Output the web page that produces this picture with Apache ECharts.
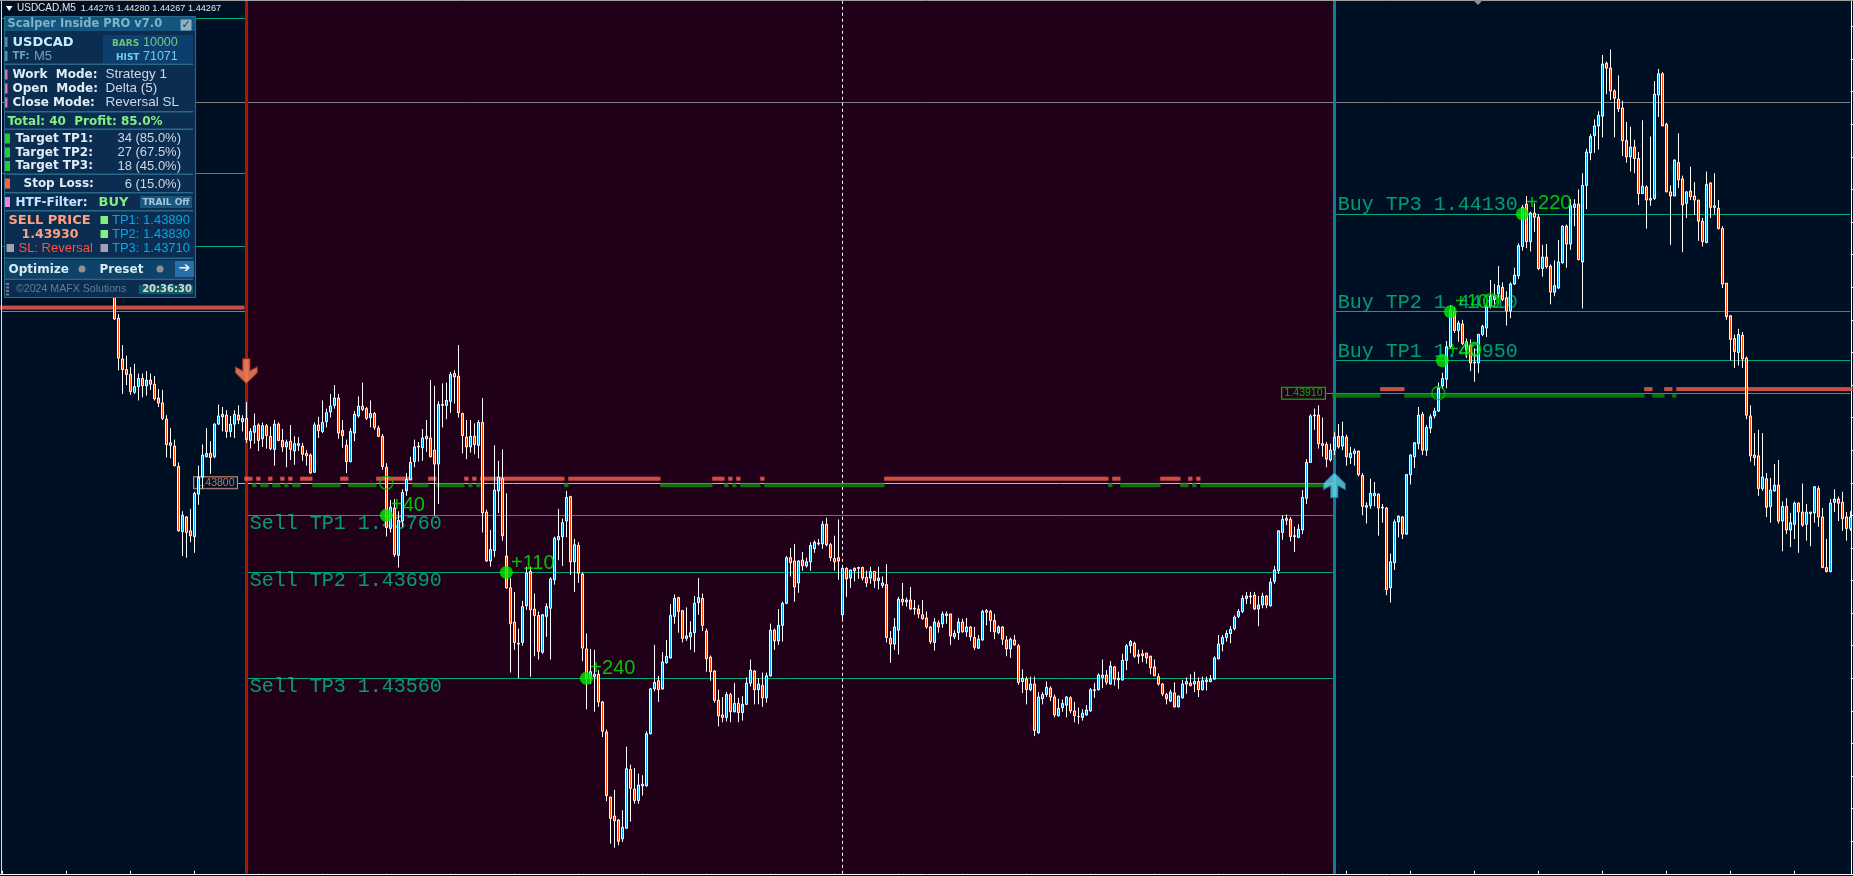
<!DOCTYPE html>
<html>
<head>
<meta charset="utf-8">
<style>html,body{margin:0;padding:0;background:#001024;overflow:hidden}#c{width:1853px;height:876px}</style>
<script src="https://cdn.jsdelivr.net/npm/echarts@6/dist/echarts.min.js"></script>
</head>
<body>
<div id="c"></div>
<script>
// Candles: [open, close, low, high] in points above 1.43000
const barsA=[[1029,1001,1000,1040],[1002,953,938,1007],[952,939,909,969],[939,933,920,956],[933,912,908,942],[911,918,909,946],[918,928,901,934],[928,919,905,934],[919,926,907,937],[926,921,914,934],[921,903,901,931],[904,898,893,915],[898,879,877,914],[878,847,831,883],[849,846,830,867],[845,821,820,853],[820,741,740,825],[740,760,710,765],[758,739,708,759],[741,735,727,768],[734,787,714,789],[786,807,773,821],[807,834,793,847],[832,836,831,867],[836,831,811,851],[832,872,830,873],[872,882,871,896],[881,884,863,893],[883,863,855,889],[863,872,856,882],[872,884,855,889],[883,877,872,895],[875,879,863,883],[879,853,849,899],[852,863,842,867],[862,870,848,885],[871,852,839,873],[854,870,844,874],[870,858,842,872],[857,842,840,869],[841,872,821,877],[872,852,851,874],[852,844,838,866],[844,850,819,853],[851,841,828,871],[839,848,822,857],[846,848,839,856],[845,835,827,849],[836,833,821,840],[834,812,811,836],[813,871,812,874],[871,864,855,881],[863,874,861,901],[875,886,868,891]];
const barsB=[[887,894,880,909],[895,904,891,920],[904,861,854,909],[864,858,843,877],[846,826,812,853],[826,863,825,867],[861,884,851,888],[882,894,880,906],[894,890,888,923],[891,879,877,893],[880,885,868,901],[885,868,865,887],[867,857,856,870],[857,820,816,860],[819,745,734,824],[744,770,739,779],[769,712,709,780],[711,754,696,765],[753,788,746,792],[790,804,784,812],[804,825,803,832],[826,844,819,853],[844,845,826,850],[843,855,827,866],[857,854,838,877],[855,832,831,926],[840,823,760,919],[823,896,774,900],[895,896,868,922],[895,901,878,923],[900,933,886,936],[934,930,897,938],[931,886,880,969],[885,858,836,886],[856,844,829,877],[844,857,837,877],[857,847,835,873],[846,874,830,877],[874,763,739,904],[764,704,703,767],[704,718,697,742],[717,791,709,846],[790,807,763,827],[805,735,729,841],[710,671,670,787],[671,627,567,683],[629,604,595,666],[603,602,560,621],[604,648,600,655],[649,689,644,697],[691,644,562,697],[645,637,587,664],[637,593,583,642],[592,638,590,639],[636,648,611,652]];
const barsC=[[646,682,583,684],[681,732,675,734],[730,734,705,768],[734,751,698,756],[753,782,733,790],[783,703,687,784],[703,724,666,731],[723,689,677,727],[688,597,581,690],[596,560,522,615],[560,568,553,596],[562,565,519,595],[565,531,525,570],[531,495,488,532],[494,416,409,497],[414,388,357,415],[391,385,352,423],[386,360,355,387],[363,377,359,398],[376,449,375,476],[448,425,384,454],[424,410,406,450],[410,429,406,443],[428,430,416,441],[428,492,427,495],[492,547,491,548],[547,555,544,601],[557,546,531,563],[547,580,546,592],[579,587,578,607],[585,637,584,651],[636,658,627,663],[659,642,616,660],[643,609,604,644],[609,612,606,647],[611,616,595,630],[616,652,592,661],[653,659,638,683],[658,625,618,664],[618,584,568,621],[586,568,557,588],[569,533,530,570],[533,514,501,546],[515,512,506,537],[512,540,507,543],[540,519,506,542],[519,529,518,554],[529,518,506,536],[518,528,508,538],[528,554,527,561],[554,570,550,583],[569,546,528,570],[546,553,528,560],[551,536,525,567]];
const barsD=[[536,563,530,567],[563,619,562,627],[619,606,595,621],[606,625,601,645],[625,652,605,654],[652,708,651,710],[708,702,685,720],[704,672,654,725],[677,704,665,705],[705,698,692,715],[698,703,696,708],[703,723,692,727],[719,727,714,729],[725,726,723,731],[725,749,719,753],[749,724,722,757],[724,708,704,726],[707,703,692,735],[708,704,681,755],[638,695,631,696],[695,682,660,696],[683,693,671,693],[692,695,679,696],[695,696,682,697],[696,683,680,697],[684,677,672,692],[683,691,676,697],[691,680,671,692],[680,683,669,697],[674,677,671,685],[675,610,604,700],[609,602,579,618],[602,623,595,634],[619,657,589,660],[657,654,649,677],[654,656,648,659],[656,645,644,672],[645,646,638,656],[645,639,634,650],[638,633,632,656],[634,623,621,642],[623,605,602,624],[604,629,594,634],[628,623,616,631],[627,639,622,642],[637,639,627,642],[639,612,601,639],[611,615,608,619],[616,629,607,634],[629,617,616,633],[617,623,611,634],[623,611,606,624],[610,598,595,623],[597,608,596,613],[607,642,606,644]];
const barsE=[[643,641,625,645],[642,631,617,644],[631,617,608,639],[616,623,614,625],[623,608,601,624],[607,596,587,612],[596,608,585,610],[607,601,600,613],[600,555,552,602],[556,560,542,571],[559,546,528,562],[546,553,544,562],[553,496,489,562],[493,537,492,543],[535,540,528,543],[540,549,537,556],[548,537,532,550],[537,515,512,540],[514,523,513,535],[524,529,519,534],[527,537,512,538],[536,520,517,538],[520,514,506,531],[513,513,504,524],[512,517,508,522],[515,521,514,527],[520,546,519,548],[545,546,536,554],[546,564,545,566],[561,564,548,583],[564,555,552,570],[553,575,552,581],[574,559,551,575],[558,560,547,568],[558,582,557,590],[582,600,570,602],[600,605,591,607],[603,587,585,605],[587,589,578,595],[590,588,580,595],[591,585,578,591],[587,573,565,588],[574,563,563,583],[562,553,551,566],[553,541,538,554],[540,535,528,542],[532,543,531,546],[542,525,524,555],[525,538,524,539],[536,553,535,558],[553,556,541,561],[554,551,550,565],[553,556,543,568],[556,546,537,561]];
const barsF=[[546,557,545,562],[556,558,545,562],[556,559,555,564],[559,585,558,587],[584,602,583,613],[602,610,593,613],[610,615,605,619],[615,620,603,624],[621,635,619,637],[636,642,634,645],[642,658,640,662],[658,661,651,666],[660,661,651,666],[662,645,644,666],[645,650,624,661],[650,661,646,665],[661,650,646,662],[649,678,648,683],[679,693,676,698],[692,741,688,742],[739,755,730,760],[754,756,748,761],[755,734,728,758],[734,735,715,746],[733,743,732,749],[742,782,737,791],[781,825,774,829],[825,882,825,884],[882,883,865,891],[883,848,842,895],[848,846,832,880],[847,829,819,850],[828,840,826,848],[840,856,834,862],[857,844,842,872],[845,857,840,875],[856,832,821,859],[831,836,823,844],[836,839,821,842],[839,810,808,839],[809,771,760,812],[770,772,750,776],[772,787,768,805],[784,787,771,801],[786,769,735,787],[769,770,751,774],[769,669,662,770],[671,703,653,713],[702,752,693,755],[752,759,733,760],[758,737,731,759],[737,810,736,811],[810,834,798,835],[832,849,818,850],[848,883,841,893]];
const barsG=[[884,840,834,887],[840,868,833,871],[867,881,861,884],[882,888,879,892],[888,916,887,923],[919,928,915,935],[927,967,916,974],[967,1012,965,1018],[1010,987,984,1016],[987,996,973,999],[995,971,969,1000],[963,973,953,977],[969,947,937,976],[947,948,924,965],[947,982,935,983],[982,992,980,994],[990,1016,979,1020],[1016,1029,1014,1049],[1025,1029,1016,1044],[1032,1042,1026,1066],[1040,1025,1023,1046],[1027,1011,993,1035],[1011,1044,1002,1046],[1044,1055,1043,1064],[1054,1091,1050,1094],[1090,1138,1085,1141],[1142,1096,1088,1152],[1096,1131,1084,1133],[1131,1126,1108,1143],[1126,1063,1061,1130],[1063,1077,1053,1092],[1077,1065,1063,1093],[1066,1034,1019,1068],[1034,1042,1029,1073],[1039,1071,1038,1098],[1070,1115,1069,1116],[1115,1093,1064,1117],[1093,1140,1086,1148],[1138,1142,1115,1148],[1142,1074,1073,1160],[1071,1165,1014,1180],[1165,1206,1136,1210],[1205,1225,1196,1228],[1226,1238,1205,1246],[1238,1251,1209,1256],[1250,1314,1224,1325],[1315,1309,1277,1317],[1309,1281,1270,1332],[1281,1272,1224,1283],[1271,1259,1255,1300],[1260,1220,1201,1269],[1220,1200,1193,1243],[1200,1212,1182,1237]];
const barsH=[[1212,1198,1180,1221],[1198,1155,1141,1206],[1155,1164,1155,1245],[1163,1147,1112,1165],[1147,1149,1140,1225],[1149,1277,1147,1293],[1276,1302,1249,1308],[1302,1238,1238,1304],[1240,1157,1157,1242],[1157,1152,1092,1165],[1152,1196,1152,1197],[1193,1172,1162,1229],[1173,1141,1083,1177],[1143,1157,1125,1158],[1158,1151,1147,1188],[1152,1147,1129,1169],[1147,1121,1097,1147],[1121,1096,1090,1125],[1095,1166,1094,1182],[1168,1138,1125,1169],[1138,1140,1130,1180],[1137,1112,1111,1147],[1112,1044,1039,1115],[1045,1004,1000,1045],[1005,976,950,1006],[977,961,941,982],[960,982,944,989],[981,952,941,985],[953,883,878,955],[882,833,826,895],[834,831,821,861],[833,793,784,865],[793,807,790,861],[805,770,758,812],[771,791,751,806],[790,797,789,823],[797,753,750,828],[753,771,716,777],[771,742,737,781],[742,751,721,763],[749,775,731,777],[775,764,714,776],[764,748,746,799],[749,764,729,774],[762,764,722,764],[763,795,751,796],[793,758,746,796],[758,696,695,769],[696,691,690,731],[691,775,690,780],[776,780,764,792],[780,775,753,783],[776,756,741,789],[758,744,729,764],[744,758,741,765]];

const blankBars=28, totalBars=463;
// Indicator blocks: bar ranges
const leftRed=[[0,60]];
const sellRed=[[61,62],[64,64],[67,67],[70,70],[72,72],[75,77],[85,86],[94,102],[107,108],[116,116],[118,118],[120,140],[142,164],[178,180],[182,182],[184,184],[190,190],[221,276],[278,279],[290,294],[297,297],[299,299]];
const sellGreen=[[63,63],[65,66],[68,69],[71,71],[73,74],[78,84],[87,93],[103,106],[109,115],[117,117],[119,119],[141,141],[165,177],[181,181],[183,183],[185,189],[191,220],[277,277],[280,289],[295,296],[298,298],[300,332]];
const buyRed=[[345,350],[411,412],[416,417],[419,462]];
const buyGreen=[[333,344],[351,410],[413,415],[418,418]];
// Levels, in points above 1.43000
const prevBuyLevel=1010, sellLevel=800, buyLevel=910, bidLevel=1267;
const prevTargets=[1370,1180,1090];
const sellTargets=[760,690,560];
const buyTargets=[950,1010,1130];
const sellBar=61, buyBar=333, cursorBar=210;
const sellTpLabels=['Sell TP1 1.43760','Sell TP2 1.43690','Sell TP3 1.43560'];
const buyTpLabels=['Buy TP1 1.43950','Buy TP2 1.44010','Buy TP3 1.44130'];
const hits=[[96,760,'+40'],[126,690,'+110'],[146,560,'+240'],[360,950,'+40'],[362,1010,'+100'],[380,1130,'+220']];
const rings=[[96,800],[359,910],[368,964],[372,1024]];
const arrows=[[61,937,'down'],[333,797,'up']];
const priceBoxes=[[59,800,'1.43800','#e89478','#ffa888'],[331,910,'1.43910','#00d800','#00e800']];

const P=v=>+(1.43+v/1e5).toFixed(5);
const cats=Array.from({length:totalBars},(_,i)=>'bar'+i);
const allBars=[...barsA,...barsB,...barsC,...barsD,...barsE,...barsF,...barsG,...barsH];
const candleData=[...Array(blankBars).fill(['-','-','-','-']),...allBars.map(r=>r.map(P))];
const expand=(ranges,lvl)=>{const o=[];ranges.forEach(([a,b])=>{for(let i=a;i<=b;i++)o.push([cats[i],P(lvl)]);});return o;};
const seg=(a,b,lvl,color,width)=>[{coord:[cats[a],P(lvl)],lineStyle:{color,width:width||1,type:'solid'}},{coord:[cats[b],P(lvl)]}];
const TP='#00a878';

const lines=[];
prevTargets.forEach(v=>lines.push(seg(0,sellBar,v,TP)));
sellTargets.forEach(v=>lines.push(seg(sellBar,buyBar,v,TP)));
buyTargets.forEach(v=>lines.push(seg(buyBar,totalBars-1,v,TP)));
lines.push(seg(0,totalBars-1,bidLevel,'#808080'));
lines.push(seg(0,sellBar,prevBuyLevel,'#00e000'));
lines.push(seg(59,buyBar,sellLevel,'#ffa080'));
lines.push(seg(331,totalBars-1,buyLevel,'#00d000'));
lines.push({xAxis:cats[cursorBar],lineStyle:{color:'#ffffff',width:1,type:[3,3]}});
lines.push({xAxis:cats[sellBar],lineStyle:{color:'#a81800',width:3,type:'solid'}});
lines.push({xAxis:cats[buyBar],lineStyle:{color:'#0e7f9a',width:3,type:'solid'}});

const redBlocks=[...expand(leftRed,prevBuyLevel+5.5),...expand(sellRed,sellLevel+5.5),...expand(buyRed,buyLevel+5.5)];
const greenBlocks=[...expand(sellGreen,sellLevel-3),...expand(buyGreen,buyLevel-3)];
const tpTexts=[
 ...sellTpLabels.map((t,i)=>({value:[cats[sellBar],P(sellTargets[i])],t,off:[3.5,8]})),
 ...buyTpLabels.map((t,i)=>({value:[cats[buyBar],P(buyTargets[i])],t,off:[3.5,-9]}))
];
const hitOff={'+40':[4.7,-10],'+110':[4.7,-9],'+240':[4,-10],'+100':[4.7,-9],'+220':[4,-10]};
const hitTexts=hits.map(([b,v,t])=>({value:[cats[b],P(v)],t,off:hitOff[t]}));

const downPath='path://M8,0 L16,0 L16,12 L24,8 L24,14 L12,25 L0,14 L0,8 L8,12 Z';
const upPath='path://M12,0 L24,11 L24,17 L16,13 L16,25 L8,25 L8,13 L0,17 L0,11 Z';

// ---- info panel ----
const g=[];
const R=(x,y,w,h,fill,stroke)=>g.push({type:'rect',z:100,shape:{x,y,width:w,height:h},style:{fill,stroke:stroke||null,lineWidth:stroke?1:0},silent:true});
const T=(x,y,text,font,fill,align)=>g.push({type:'text',z:101,x,y,silent:true,style:{text,font,fill,textAlign:align||'left',textVerticalAlign:'middle'}});
const B='bold 12px "DejaVu Sans"', N='13px "Liberation Sans"';
R(4.5,16.5,191,281,'#0b2d52','#2a6a8a');
R(5,17,190,14,'#12557e');
T(7.5,24.5,'Scalper Inside PRO v7.0','bold 11.5px "DejaVu Sans"','#7fb3c8');
R(180.5,19.5,11,11,'#8fb0c0');
T(186,25,'✓','bold 11px "DejaVu Sans"','#12384f','center');
[64,111.5,129,174,192.5,210.5,258,279].forEach(y=>R(5,y-0.5,188,1.6,'#2a6888'));
R(5,33,188,30,'#0b2d52');
R(103,35,90,28,'#0c3f6e');
R(5,37,2.5,10,'#4f8fa8');R(5,51,2.5,10,'#4f8fa8');
T(12.5,43,'USDCAD','bold 13px "DejaVu Sans"','#c0f0ff');
T(12.5,56,'TF:','bold 10px "DejaVu Sans"','#6aa0c0');
T(34,56,'M5','13px "Liberation Sans"','#6aa0c0');
T(112,43.5,'BARS','bold 9px "DejaVu Sans"','#70c070');
T(143,43,'10000','12.5px "Liberation Sans"','#70c880');
T(116,57.5,'HIST','bold 9px "DejaVu Sans"','#70d0f0');
T(143,57,'71071','12.5px "Liberation Sans"','#70d0f0');
[['Work  Mode:','Strategy 1',74.5],['Open  Mode:','Delta (5)',88.5],['Close Mode:','Reversal SL',102.5]].forEach(([a,b,y])=>{
  R(5,y-5,2.5,10,'#e070b0');T(12.5,y,a,B,'#e0eef4');T(105.5,y,b,'13.5px "Liberation Sans"','#d0d8e0');});
T(7.5,121.5,'Total: 40  Profit: 85.0%',B,'#80f080');
[['Target TP1:','34 (85.0%)',138.5],['Target TP2:','27 (67.5%)',152.5],['Target TP3:','18 (45.0%)',166]].forEach(([a,b,y])=>{
  R(5,y-5,5,10,'#20d030');T(15.5,y,a,B,'#e0eef4');T(181,y,b,N,'#d0d8e0','right');});
R(5,178.5,5,10,'#ff6040');T(23.5,184,'Stop Loss:',B,'#e0eef4');T(181,184,'6 (15.0%)',N,'#d0d8e0','right');
R(5,197,5,10,'#f080e0');T(15.5,202.5,'HTF-Filter:',B,'#c0e8ff');T(98.5,202.5,'BUY','bold 13px "DejaVu Sans"','#80f080');
R(140,196,52,12,'#185880');T(166,202.5,'TRAIL Off','bold 9px "DejaVu Sans"','#a8c4d4','center');
T(49.5,220.5,'SELL PRICE','bold 13px "DejaVu Sans"','#ffa080','center');
T(50,234.5,'1.43930','bold 12.5px "DejaVu Sans"','#ffa080','center');
R(6.5,244,7.5,8,'#a0a0b0');T(18.5,248,'SL: Reversal',N,'#ff5040');
[['TP1: 1.43890','#80f080',220],['TP2: 1.43830','#80f080',234],['TP3: 1.43710','#a0a0b0',248]].forEach(([t,c,y])=>{R(100.5,y-4,7.5,8,c);T(112,y,t,N,'#00a8e8');});
R(5,260,188,18,'#0f4268');
T(8.5,269.5,'Optimize',B,'#d8ecf4');
T(99.5,269.5,'Preset',B,'#d8ecf4');
[82,160].forEach(x=>g.push({type:'circle',z:101,silent:true,shape:{cx:x,cy:269,r:3.5},style:{fill:'#909090'}}));
R(175,261,19,16,'#2a70a8');
T(184.5,268.5,'➔','bold 14px "DejaVu Sans"','#e8f0f4','center');
[283,286.5,290,293.5].forEach(y=>R(6,y,3,2,'#6a7a9a'));
T(16,289.5,'©2024 MAFX Solutions','10.6px "Liberation Sans"','#5f7f90');
R(139,285,54,9,'#0a6060');T(167,289.5,'20:36:30','bold 10px "DejaVu Sans"','#d8d8d8','center');
// header, frame and scroll mark
g.push({type:'polygon',z:101,silent:true,shape:{points:[[6,6],[12.5,6],[9.2,11]]},style:{fill:'#fff'}});
T(17,8.5,'USDCAD,M5','10px "Liberation Sans"','#e8e8e8');
T(80.7,8.5,'1.44276 1.44280 1.44267 1.44267','9.2px "Liberation Sans"','#e8e8e8');
g.push({type:'line',z:90,silent:true,shape:{x1:1.5,y1:0,x2:1.5,y2:874},style:{stroke:'#e0e0e0',lineWidth:1}});
g.push({type:'line',z:90,silent:true,shape:{x1:0,y1:0.5,x2:1853,y2:0.5},style:{stroke:'#a0a0a0',lineWidth:1}});
g.push({type:'polygon',z:101,silent:true,shape:{points:[[1473,0],[1483,0],[1478,5]]},style:{fill:'#909090'}});

const chart=echarts.init(document.getElementById('c'),null,{renderer:'canvas'});
chart.setOption({
 animation:false,
 backgroundColor:'#001024',
 grid:{left:0.33,top:0,width:1852,height:873.8,show:false},
 tooltip:{show:false},
 xAxis:{type:'category',data:cats,boundaryGap:true,
  axisLine:{show:true,lineStyle:{color:'#fff',width:1}},
  axisTick:{show:true,inside:true,length:3,alignWithLabel:true,interval:i=>i%16===0,lineStyle:{color:'#fff'}},
  axisLabel:{show:false},splitLine:{show:false}},
 yAxis:{type:'value',position:'right',offset:-1,min:1.4332,max:1.443926,interval:0.0004,
  axisLine:{show:true,onZero:false,lineStyle:{color:'#fff',width:1}},
  axisTick:{show:true,inside:false,length:2,lineStyle:{color:'#fff'}},
  axisLabel:{show:false},splitLine:{show:false}},
 graphic:{elements:g},
 series:[
  {type:'scatter',name:'base',z:1,silent:true,symbolSize:0,data:[[cats[0],P(1000)]],
   markArea:{silent:true,z:1,itemStyle:{color:'#210019'},data:[[{xAxis:cats[sellBar]},{xAxis:cats[buyBar]}]]},
   markLine:{silent:true,z:2,symbol:'none',label:{show:false},animation:false,data:lines}},
  {type:'scatter',name:'levels',z:3,silent:true,symbol:'rect',symbolSize:[4.3,4],itemStyle:{color:'#ff5f4c'},data:redBlocks},
  {type:'scatter',name:'levels2',z:3,silent:true,symbol:'rect',symbolSize:[4.3,4],itemStyle:{color:'#0a900a'},data:greenBlocks},
  {type:'scatter',name:'tpLabels',z:4,silent:true,symbolSize:0,data:tpTexts.map(d=>({value:d.value,label:{show:true,position:'right',distance:0,offset:d.off,formatter:d.t,color:'#00c088',fontFamily:'Liberation Mono',fontSize:20}}))},
  {type:'scatter',name:'boxes',z:4,silent:true,symbolSize:0,data:priceBoxes.map(([b,v,t,c,bc])=>({value:[cats[b],P(v)],label:{show:true,position:'left',distance:0,offset:[-22.8,0],formatter:t,color:c,fontFamily:'Liberation Sans',fontSize:10.5,borderColor:bc,borderWidth:1,padding:[1,2,0,2],width:39,height:10,align:'center',lineHeight:10,backgroundColor:b<100?'#001024':'#210019'}}))},
  {type:'candlestick',name:'USDCAD',z:6,silent:true,barWidth:3,data:candleData,
   itemStyle:{color:'#00a8f0',color0:'#ff4500',borderColor:'#ffffff',borderColor0:'#ffffff',borderWidth:1}},
  {type:'scatter',name:'rings',z:7,silent:true,symbol:'circle',symbolSize:13,itemStyle:{color:'rgba(0,0,0,0)',borderColor:'#00c000',borderWidth:1.6},data:rings.map(([b,v])=>[cats[b],P(v)])},
  {type:'scatter',name:'hits',z:8,silent:true,symbol:'circle',symbolSize:13,itemStyle:{color:'#00e800'},data:hits.map(([b,v])=>[cats[b],P(v)])},
  {type:'scatter',name:'hitLabels',z:9,silent:true,symbolSize:0,data:hitTexts.map(d=>({value:d.value,label:{show:true,position:'right',distance:0,offset:d.off,formatter:d.t,color:'#00f000',fontFamily:'Liberation Sans',fontSize:20}}))},
  {type:'scatter',name:'arrows',z:9,silent:true,data:arrows.map(([b,v,dir])=>({value:[cats[b],P(v)],symbol:dir==='down'?downPath:upPath,symbolSize:[22,25],itemStyle:dir==='down'?{color:'#ff8a60',borderColor:'#a82010',borderWidth:1}:{color:'#60d8e8',borderColor:'#1878a0',borderWidth:1}}))}
 ]
});
</script>
</body>
</html>
